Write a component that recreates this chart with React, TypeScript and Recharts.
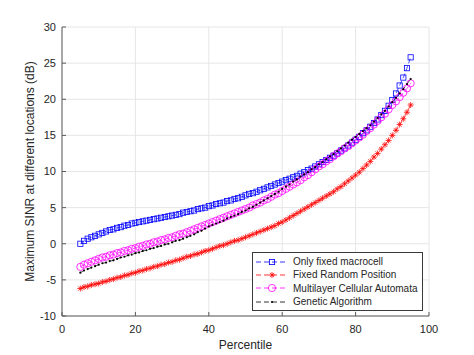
import { LineChart, Line, XAxis, YAxis, CartesianGrid, Legend } from "recharts";

const PCT = [
  5, 6, 7, 8, 9, 10, 11, 12, 13, 14, 15, 16, 17, 18, 19, 20, 21, 22, 23, 24,
  25, 26, 27, 28, 29, 30, 31, 32, 33, 34, 35, 36, 37, 38, 39, 40, 41, 42, 43, 44,
  45, 46, 47, 48, 49, 50, 51, 52, 53, 54, 55, 56, 57, 58, 59, 60, 61, 62, 63, 64,
  65, 66, 67, 68, 69, 70, 71, 72, 73, 74, 75, 76, 77, 78, 79, 80, 81, 82, 83, 84,
  85, 86, 87, 88, 89, 90, 91, 92, 93, 94, 95,
];

const MACRO = [
  0.0, 0.4, 0.7, 0.9, 1.1, 1.3, 1.5, 1.7, 1.9, 2.0,
  2.2, 2.3, 2.5, 2.6, 2.8, 2.9, 3.0, 3.1, 3.2, 3.3,
  3.4, 3.5, 3.6, 3.7, 3.8, 3.9, 4.0, 4.1, 4.3, 4.4,
  4.5, 4.6, 4.8, 4.9, 5.0, 5.2, 5.3, 5.5, 5.6, 5.7,
  5.9, 6.0, 6.2, 6.3, 6.5, 6.7, 6.9, 7.0, 7.2, 7.4,
  7.6, 7.8, 8.0, 8.2, 8.4, 8.6, 8.8, 9.0, 9.2, 9.4,
  9.7, 9.9, 10.2, 10.4, 10.7, 11.0, 11.3, 11.6, 11.9, 12.2,
  12.5, 12.9, 13.2, 13.6, 14.0, 14.4, 14.8, 15.3, 15.7, 16.2,
  16.7, 17.2, 17.8, 18.4, 19.1, 19.9, 20.8, 21.9, 23.0, 24.3,
  25.8,
];

const FIXED_RANDOM = [
  -6.2, -6.0, -5.9, -5.7, -5.6, -5.5, -5.3, -5.2, -5.0, -4.9,
  -4.7, -4.6, -4.4, -4.3, -4.1, -4.0, -3.8, -3.7, -3.5, -3.4,
  -3.2, -3.1, -2.9, -2.8, -2.6, -2.5, -2.3, -2.2, -2.0, -1.8,
  -1.7, -1.5, -1.4, -1.2, -1.0, -0.9, -0.7, -0.5, -0.3, -0.2,
  0.0, 0.2, 0.4, 0.5, 0.7, 0.9, 1.1, 1.3, 1.5, 1.7,
  1.9, 2.1, 2.3, 2.5, 2.8, 3.0, 3.3, 3.6, 3.9, 4.2,
  4.5, 4.8, 5.1, 5.4, 5.7, 6.0, 6.3, 6.6, 6.9, 7.2,
  7.6, 7.9, 8.3, 8.7, 9.1, 9.5, 9.9, 10.4, 10.9, 11.4,
  12.0, 12.5, 13.1, 13.7, 14.3, 15.0, 15.7, 16.5, 17.3, 18.2,
  19.2,
];

const MCA = [
  -3.2, -2.9, -2.7, -2.5, -2.3, -2.1, -1.9, -1.8, -1.6, -1.5,
  -1.3, -1.2, -1.0, -0.9, -0.7, -0.6, -0.4, -0.3, -0.1, 0.0,
  0.2, 0.3, 0.5, 0.6, 0.8, 0.9, 1.1, 1.3, 1.4, 1.6,
  1.8, 2.0, 2.2, 2.4, 2.6, 2.8, 3.0, 3.2, 3.4, 3.6,
  3.8, 4.0, 4.2, 4.4, 4.6, 4.8, 5.0, 5.3, 5.5, 5.7,
  6.0, 6.2, 6.5, 6.8, 7.0, 7.3, 7.6, 7.9, 8.2, 8.5,
  8.8, 9.2, 9.5, 9.9, 10.3, 10.7, 11.0, 11.4, 11.7, 12.1,
  12.5, 12.8, 13.2, 13.5, 13.9, 14.3, 14.7, 15.1, 15.6, 16.0,
  16.5, 17.0, 17.5, 18.0, 18.6, 19.2, 19.7, 20.3, 20.9, 21.5,
  22.2,
];

const GA = [
  -4.0, -3.7, -3.5, -3.3, -3.1, -2.9, -2.7, -2.6, -2.4, -2.3,
  -2.1, -1.9, -1.8, -1.6, -1.5, -1.3, -1.2, -1.0, -0.9, -0.7,
  -0.6, -0.4, -0.3, -0.1, 0.0, 0.2, 0.4, 0.5, 0.7, 0.9,
  1.1, 1.3, 1.6, 1.8, 2.1, 2.4, 2.6, 2.8, 3.0, 3.2,
  3.5, 3.7, 3.9, 4.1, 4.4, 4.6, 4.9, 5.1, 5.4, 5.7,
  6.0, 6.3, 6.6, 6.9, 7.2, 7.6, 7.9, 8.2, 8.6, 8.9,
  9.3, 9.6, 9.9, 10.3, 10.6, 11.0, 11.3, 11.7, 12.1, 12.4,
  12.8, 13.2, 13.6, 14.0, 14.4, 14.8, 15.2, 15.6, 16.0, 16.4,
  16.9, 17.4, 17.9, 18.4, 19.0, 19.6, 20.2, 20.8, 21.4, 22.1,
  22.8,
];

const X_TICKS = [0, 20, 40, 60, 80, 100];
const Y_TICKS = [-10, -5, 0, 5, 10, 15, 20, 25, 30];

type MarkerType = "square" | "star" | "circle" | "dot";

const SERIES: { key: string; name: string; color: string; marker: MarkerType }[] = [
  { key: "macro", name: "Only fixed macrocell", color: "#0000ff", marker: "square" },
  { key: "fixed", name: "Fixed Random Position", color: "#ff0000", marker: "star" },
  { key: "mca", name: "Multilayer Cellular Automata", color: "#ff00ff", marker: "circle" },
  { key: "ga", name: "Genetic Algorithm", color: "#000000", marker: "dot" },
];

const data = PCT.map((p, i) => ({
  p,
  macro: MACRO[i],
  fixed: FIXED_RANDOM[i],
  mca: MCA[i],
  ga: GA[i],
}));

const FONT = "'Liberation Sans', Arial, sans-serif";
const AXIS = "#5a5a5a";
const TEXT = "#262626";

function Marker({ type, cx, cy, color }: { type: MarkerType; cx: number; cy: number; color: string }) {
  if (type === "square") {
    return <rect x={cx - 2.6} y={cy - 2.6} width={5.2} height={5.2} fill="none" stroke={color} strokeWidth={0.8} />;
  }
  if (type === "circle") {
    return <circle cx={cx} cy={cy} r={3.6} fill="none" stroke={color} strokeWidth={0.8} />;
  }
  if (type === "star") {
    const r = 3;
    const d = 2.1;
    return (
      <g stroke={color} strokeWidth={0.8}>
        <line x1={cx - r} y1={cy} x2={cx + r} y2={cy} />
        <line x1={cx} y1={cy - r} x2={cx} y2={cy + r} />
        <line x1={cx - d} y1={cy - d} x2={cx + d} y2={cy + d} />
        <line x1={cx - d} y1={cy + d} x2={cx + d} y2={cy - d} />
      </g>
    );
  }
  return <circle cx={cx} cy={cy} r={1.1} fill={color} />;
}

const renderDot = (type: MarkerType, color: string) => (props: any) => {
  const { cx, cy, index } = props;
  return (
    <g key={`m-${type}-${index}`}>
      <Marker type={type} cx={cx} cy={cy} color={color} />
    </g>
  );
};

function LegendBox() {
  return (
    <div
      style={{
        width: 169,
        border: "1px solid #3a3a3a",
        background: "#fff",
        padding: "2px 0",
        fontFamily: FONT,
        fontSize: 10,
        color: TEXT,
      }}
    >
      {SERIES.map((s) => (
        <div key={s.key} style={{ display: "flex", alignItems: "center", height: 13.3 }}>
          <svg width={40} height={12} style={{ display: "block" }}>
            <line x1={3} y1={6} x2={35} y2={6} stroke={s.color} strokeWidth={0.8} strokeDasharray="5 3" />
            <Marker type={s.marker} cx={19} cy={6} color={s.color} />
          </svg>
          <span style={{ whiteSpace: "nowrap" }}>{s.name}</span>
        </div>
      ))}
    </div>
  );
}

export default function App() {
  return (
    <div style={{ position: "absolute", left: 0, top: 0, background: "#fff" }}>
      <LineChart width={474} height={355} data={data} margin={{ top: 27, right: 45, bottom: 0, left: 0 }}>
        <CartesianGrid stroke="#e6e6e6" strokeWidth={1} />
        <XAxis
          dataKey="p"
          type="number"
          domain={[0, 100]}
          ticks={X_TICKS}
          height={39}
          tickSize={-4}
          tickMargin={13}
          stroke={AXIS}
          tick={{ fill: TEXT, fontSize: 11, fontFamily: FONT }}
          label={{ value: "Percentile", position: "insideBottom", offset: 6, fill: TEXT, fontSize: 12, fontFamily: FONT }}
        />
        <XAxis
          xAxisId="top"
          orientation="top"
          type="number"
          domain={[0, 100]}
          ticks={X_TICKS}
          height={0}
          tickSize={-4}
          tick={false}
          stroke={AXIS}
        />
        <YAxis
          type="number"
          domain={[-10, 30]}
          ticks={Y_TICKS}
          width={62}
          tickSize={-4}
          tickMargin={10}
          stroke={AXIS}
          tick={{ fill: TEXT, fontSize: 11, fontFamily: FONT }}
          label={{
            value: "Maximum SINR at different locations (dB)",
            angle: -90,
            position: "insideLeft",
            offset: 30,
            fill: TEXT,
            fontSize: 12,
            fontFamily: FONT,
            style: { textAnchor: "middle" },
          }}
        />
        <YAxis
          yAxisId="right"
          orientation="right"
          type="number"
          domain={[-10, 30]}
          ticks={Y_TICKS}
          width={0}
          tickSize={-4}
          tick={false}
          stroke={AXIS}
        />
        {SERIES.map((s) => (
          <Line
            key={s.key}
            type="linear"
            dataKey={s.key}
            name={s.name}
            stroke={s.color}
            strokeWidth={0.7}
            strokeDasharray="5 3"
            dot={renderDot(s.marker, s.color)}
            activeDot={false}
            isAnimationActive={false}
          />
        ))}
        <Legend
          layout="horizontal"
          verticalAlign="middle"
          align="center"
          content={() => <LegendBox />}
          wrapperStyle={{ left: 252, top: 252, width: 171, height: 56 }}
        />
      </LineChart>
    </div>
  );
}
